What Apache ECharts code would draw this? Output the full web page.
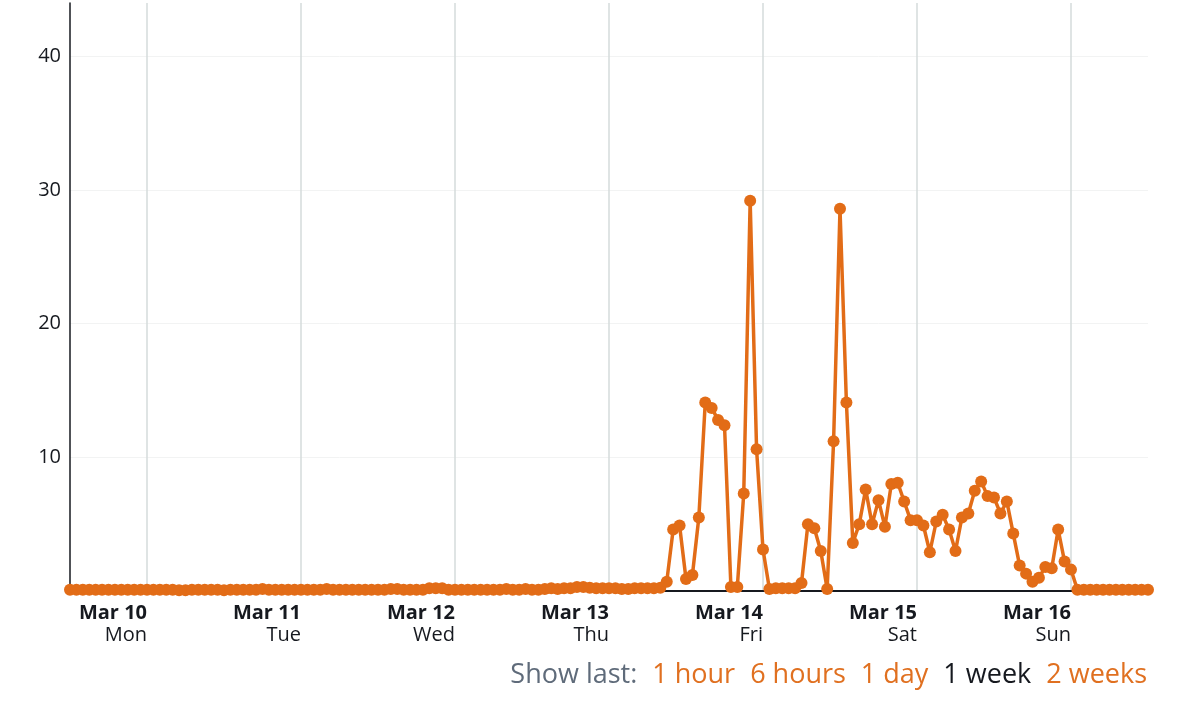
<!DOCTYPE html>
<html>
<head>
<meta charset="utf-8">
<script src="https://cdn.jsdelivr.net/npm/echarts@6/dist/echarts.min.js"></script>
<style>
  html, body { margin: 0; padding: 0; background: #ffffff; }
  #chart { width: 1200px; height: 705px; }
</style>
</head>
<body>
<div id="chart"></div>
<script>
// ---- data ----
// hourly samples starting Mar 9 12:00 (local time)
const startTime = [2025, 2, 9, 12]; // year, monthIndex, day, hour
const baselineValues = [
  // Mar 9 12:00 - 23:00
  0.1,0.1,0.1,0.1,0.1,0.1,0.1,0.1,0.1,0.1,0.1,0.1,
  // Mar 10
  0.1,0.1,0.1,0.1,0.1,0.05,0.05,0.1,0.1,0.1,0.1,0.1,0.05,0.1,0.1,0.1,0.1,0.1,0.15,0.1,0.1,0.1,0.1,0.1,
  // Mar 11
  0.1,0.1,0.1,0.1,0.15,0.1,0.1,0.1,0.1,0.1,0.1,0.1,0.1,0.1,0.15,0.15,0.1,0.1,0.1,0.1,0.2,0.2,0.2,0.1,
  // Mar 12
  0.1,0.1,0.1,0.1,0.1,0.1,0.1,0.1,0.15,0.1,0.1,0.15,0.1,0.1,0.15,0.2,0.15,0.2,0.2,0.3,0.3,0.25,0.2,0.2,
  // Mar 13 00:00 - 08:00
  0.2,0.2,0.15,0.15,0.2,0.2,0.2,0.2,0.25
];
const activeValues = [
  // Mar 13 09:00 - 23:00
  0.7,4.6,4.9,0.9,1.2,5.5,14.1,13.7,12.8,12.4,0.3,0.3,7.3,29.2,10.6,
  // Mar 14
  3.1,0.15,0.2,0.2,0.2,0.2,0.6,5.0,4.7,3.0,0.15,11.2,28.6,14.1,3.6,5.0,7.6,5.0,6.8,4.8,8.0,8.1,6.7,5.3,
  // Mar 15
  5.3,4.9,2.9,5.2,5.7,4.6,3.0,5.5,5.8,7.5,8.2,7.1,7.0,5.8,6.7,4.3,1.9,1.3,0.7,1.0,1.8,1.7,4.6,2.2,
  // Mar 16 00:00 - 12:00
  1.6,0.1,0.1,0.1,0.1,0.1,0.1,0.1,0.1,0.1,0.1,0.1,0.1
];
const tickDates = ['Mar 10','Mar 11','Mar 12','Mar 13','Mar 14','Mar 15','Mar 16'];
const tickDays  = ['Mon','Tue','Wed','Thu','Fri','Sat','Sun'];
const yTicks = [0, 10, 20, 30, 40];
const rangeOptions = ['1 hour','6 hours','1 day','1 week','2 weeks'];
const selectedRange = '1 week';

// ---- build ----
const HOUR = 3600 * 1000, DAY = 24 * HOUR;
const t0 = new Date(startTime[0], startTime[1], startTime[2], startTime[3]).getTime();
const firstTick = new Date(startTime[0], startTime[1], startTime[2] + 1, 0).getTime();
const values = baselineValues.concat(activeValues);
const seriesData = values.map((v, i) => [t0 + i * HOUR, v]);
const tMax = t0 + (values.length - 1) * HOUR;

const ORANGE = '#e26c17';
const FONT = 'Open Sans';

let rangeText = '{g|Show last:}{s| }';
rangeOptions.forEach((r, i) => {
  rangeText += (i ? '{s| }' : '') + (r === selectedRange ? '{k|' + r + '}' : '{o|' + r + '}');
});

const chart = echarts.init(document.getElementById('chart'), null, { renderer: 'canvas' });
chart.setOption({
  animation: false,
  backgroundColor: '#ffffff',
  grid: { left: 70, right: 52, top: 3, bottom: 114, containLabel: false },
  title: {
    show: true,
    right: 53,
    top: 662,
    padding: 0,
    text: rangeText,
    textStyle: {
      fontWeight: 'normal',
      rich: {
        g: { fontFamily: FONT, fontSize: 27, fontWeight: 'normal', color: '#5f6b7a' },
        o: { fontFamily: FONT, fontSize: 27, fontWeight: 'normal', color: '#e07020' },
        k: { fontFamily: FONT, fontSize: 27, fontWeight: 'normal', color: '#16191f' },
        s: { fontFamily: FONT, fontSize: 27, fontWeight: 'normal', width: 15 }
      }
    }
  },
  xAxis: {
    type: 'time',
    min: t0,
    max: tMax,
    minInterval: DAY,
    maxInterval: DAY,
    axisLine: { show: true, onZero: false, lineStyle: { color: '#16191f', width: 2 } },
    axisTick: { show: false },
    splitLine: { show: true, showMinLine: false, showMaxLine: false, lineStyle: { color: '#d5dbdb', width: 1.5 } },
    axisLabel: {
      show: true,
      margin: 11,
      align: 'right',
      hideOverlap: false,
      formatter: function (val) {
        const idx = Math.round((val - firstTick) / DAY);
        if (idx < 0 || idx >= tickDates.length || Math.abs(val - (firstTick + idx * DAY)) > HOUR) return '';
        return '{a|' + tickDates[idx] + '}\n{b|' + tickDays[idx] + '}';
      },
      rich: {
        a: { fontFamily: FONT, fontSize: 20, fontWeight: 'bold', color: '#16191f', lineHeight: 22, align: 'right' },
        b: { fontFamily: FONT, fontSize: 20, color: '#16191f', lineHeight: 22, align: 'right' }
      }
    }
  },
  yAxis: {
    type: 'value',
    min: yTicks[0],
    max: 44,
    interval: 10,
    axisLine: { show: true, lineStyle: { color: '#16191f', width: 1.5 } },
    axisTick: { show: false },
    splitLine: { show: true, showMaxLine: false, lineStyle: { color: '#f2f3f3', width: 1 } },
    axisLabel: {
      margin: 9,
      showMaxLabel: false,
      fontFamily: FONT,
      fontSize: 20,
      color: '#16191f',
      formatter: function (v) { return yTicks.indexOf(v) >= 1 ? String(v) : ''; }
    }
  },
  series: [{
    type: 'line',
    data: seriesData,
    symbol: 'circle',
    symbolSize: 12,
    showAllSymbol: true,
    lineStyle: { color: ORANGE, width: 3.5 },
    itemStyle: { color: ORANGE },
    z: 3
  }]
});
</script>
</body>
</html>
